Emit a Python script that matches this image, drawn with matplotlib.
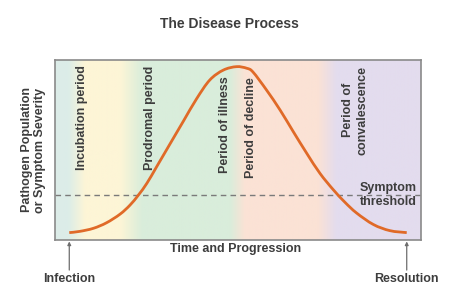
import numpy as np
import matplotlib
matplotlib.use("Agg")
import matplotlib.pyplot as plt
from matplotlib.colors import to_rgb
from matplotlib.path import Path
from matplotlib.patches import PathPatch

plt.rcParams['font.family'] = ['Liberation Sans', 'DejaVu Sans']

# Datos (tiempo 0-100, severidad 0-100)
tiempo = [3.9, 6.8, 10.5, 14.1, 17.8, 20.5, 22.8, 25.1, 27.8, 31.4, 35.1, 38.7,
          42.3, 46.0, 49.6, 52.4, 54.1, 57.8, 61.5, 65.1, 68.8, 72.4, 76.0,
          79.2, 82.4, 87.0, 91.5, 96.1]
severidad = [4.1, 4.8, 6.5, 9.6, 14.4, 19.4, 25.0, 31.5, 40.8, 53.3, 66.1, 78.5,
             88.9, 94.4, 96.3, 95.4, 93.3, 83.3, 72.2, 60.2, 48.1, 37.0, 28.0,
             21.0, 15.0, 8.6, 5.2, 4.1]
umbral = 25.0

periodos = ["Incubation period", "Prodromal period", "Period of illness",
            "Period of decline", "Period of\nconvalescence"]
periodos_x = [7.4, 26.0, 46.4, 53.6, 82.0]
periodos_y = [68.0, 68.0, 63.9, 62.2, 72.2]

inicio_x = 3.9
fin_x = 96.1

# Colores de fondo (posición x, color)
paradas = [(0, "#dcece9"), (3.6, "#dcede8"), (8.2, "#fdf5d6"), (17.8, "#fdf5d6"),
           (23.8, "#d9eddb"), (47.8, "#d9eddb"), (51.9, "#fbe2d5"), (71.9, "#fbe2d5"),
           (77.0, "#e3dcee"), (100, "#e3dcee")]

texto = "#3d3d3d"
gris = "#8a8a8a"

fig = plt.figure(figsize=(4.74, 3.06), dpi=100)
ax = fig.add_axes([55 / 474, 66 / 306, 366 / 474, 180 / 306])

# Fondo degradado
xs = np.linspace(0, 100, 400)
pos = [p for p, c in paradas]
cols = np.array([to_rgb(c) for p, c in paradas])
img = np.stack([np.interp(xs, pos, cols[:, i]) for i in range(3)], axis=-1)
ax.imshow(img[np.newaxis, :, :], extent=[0, 100, 0, 100], aspect='auto', zorder=0)

# Curva suave (Bezier) que pasa por los puntos leídos
pts = np.column_stack([tiempo, severidad])
verts = [pts[0]]
codes = [Path.MOVETO]
for i in range(len(pts) - 1):
    p0 = pts[max(i - 1, 0)]
    p1 = pts[i]
    p2 = pts[i + 1]
    p3 = pts[min(i + 2, len(pts) - 1)]
    verts += [p1 + (p2 - p0) / 6, p2 - (p3 - p1) / 6, p2]
    codes += [Path.CURVE4] * 3
ax.add_patch(PathPatch(Path(verts, codes), facecolor='none', edgecolor="#e06a28",
                       lw=2.0, capstyle='butt', zorder=3))

ax.axhline(umbral, color="#7a7a7a", lw=1.0, ls=(0, (4, 3)), zorder=2)

for nombre, x, y in zip(periodos, periodos_x, periodos_y):
    ax.text(x, y, nombre, rotation=90, ha='center', va='center', fontsize=9,
            fontweight='bold', color=texto, multialignment='center', zorder=4)

ax.text(91.0, umbral, "Symptom\nthreshold", ha='center', va='center', fontsize=9,
        fontweight='bold', color=texto, linespacing=1.25)

ax.set_xlim(0, 100)
ax.set_ylim(0, 100)
ax.set_xticks([])
ax.set_yticks([])
for s in ax.spines.values():
    s.set_color(gris)
    s.set_linewidth(1.2)

# Flechas de inicio y fin
for x, etiqueta in [(inicio_x, "Infection"), (fin_x, "Resolution")]:
    ax.annotate("", xy=(x, -0.8), xytext=(x, -16.7), annotation_clip=False,
                arrowprops=dict(arrowstyle='-|>', color="#6e6e6e", lw=0.9,
                                mutation_scale=5, shrinkA=0, shrinkB=0))
    ax.text(x, -21.7, etiqueta, ha='center', va='center', fontsize=9,
            fontweight='bold', color=texto, clip_on=False)

ax.text(49.2, -5.0, "Time and Progression", ha='center', va='center', fontsize=9,
        fontweight='bold', color=texto, clip_on=False)

fig.text(33.5 / 474, 1 - 150 / 306, "Pathogen Population\nor Symptom Severity",
         rotation=90, ha='center', va='center', fontsize=9, fontweight='bold',
         color=texto, linespacing=1.15)

fig.text(229 / 474, 1 - 24 / 306, "The Disease Process", ha='center', va='center',
         fontsize=10, fontweight='bold', color=texto)

plt.savefig("out.png", dpi=100)
plt.close()
